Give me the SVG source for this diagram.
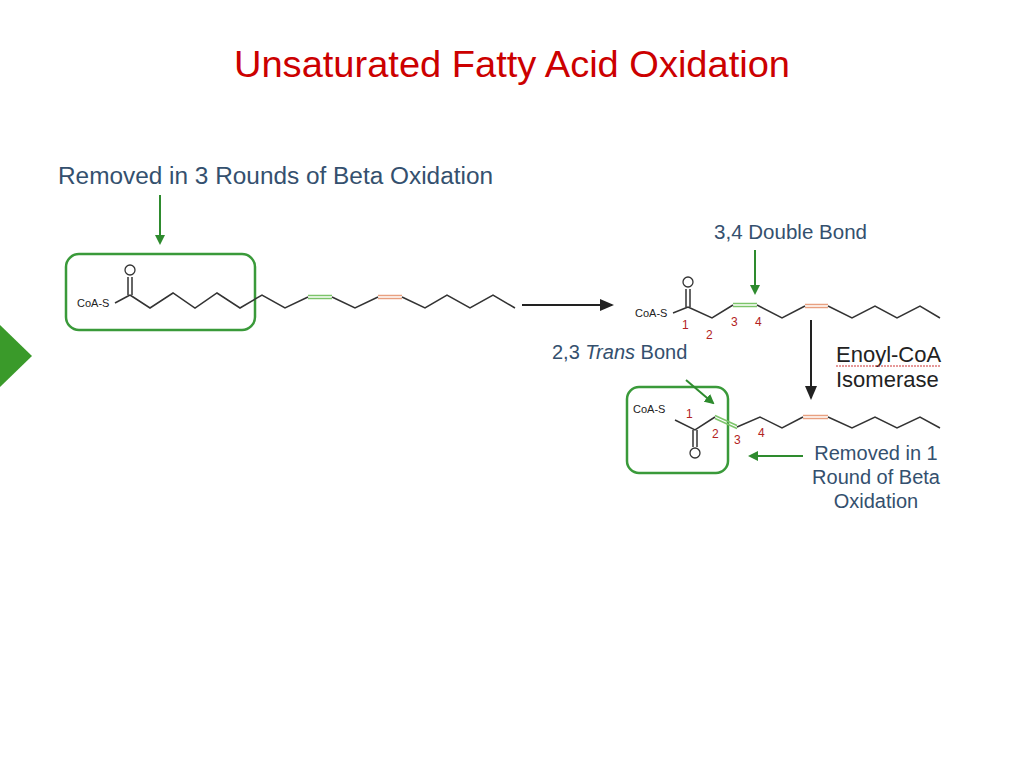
<svg xmlns="http://www.w3.org/2000/svg" width="1024" height="768" viewBox="0 0 1024 768">
<style>
.t{font-family:"Liberation Sans",Arial,sans-serif;fill:#34506e}
.s{font-family:"Liberation Sans",Arial,sans-serif;font-size:11px;fill:#222}
.n{font-family:"Liberation Sans",Arial,sans-serif;font-size:12px;fill:#b22222}
.ch{fill:none;stroke:#333;stroke-width:1.5}
.g{stroke:#7cc46a;stroke-width:1.5}
.o{stroke:#e8a080;stroke-width:1.5}
.box{fill:none;stroke:#3a9a3a;stroke-width:2.5}
.ga{stroke:#2e8b2e;stroke-width:2;fill:none;marker-end:url(#gh)}
.ba{stroke:#222;stroke-width:2;fill:none;marker-end:url(#bh)}
</style>
<defs>
<marker id="gh" markerWidth="10" markerHeight="10" refX="8" refY="5" orient="auto" markerUnits="userSpaceOnUse"><path d="M0,0 L10,5 L0,10 z" fill="#2e8b2e"/></marker>
<marker id="bh" markerWidth="14" markerHeight="14" refX="12" refY="7" orient="auto" markerUnits="userSpaceOnUse"><path d="M0,1 L14,7 L0,13 z" fill="#222"/></marker>
</defs>
<rect width="1024" height="768" fill="#fff"/>
<polygon points="0,325 32,356 0,387" fill="#3a9a2a"/>
<text x="512" y="77" text-anchor="middle" font-family="Liberation Sans,Arial,sans-serif" font-size="36" textLength="556" lengthAdjust="spacingAndGlyphs" fill="#cc0000">Unsaturated Fatty Acid Oxidation</text>
<g id="mol1">
<rect class="box" x="66" y="254" width="189" height="76" rx="13"/>
<text class="s" x="77" y="307">CoA-S</text>
<line x1="115" y1="303" x2="130" y2="295" class="ch"/>
<line x1="128" y1="295" x2="128" y2="277" class="ch"/><line x1="132" y1="295" x2="132" y2="277" class="ch"/>
<circle cx="130" cy="270" r="5" fill="none" stroke="#333" stroke-width="1.3"/>
<polyline class="ch" points="130,295 150,308 173,293 195,308 217,293 240,308 262,295 285,308 308,297"/>
<polyline class="ch" points="332,297 355,308 378,297"/>
<polyline class="ch" points="402,297 425,308 447,295 470,308 493,295 515,308"/>
<line class="g" x1="308" y1="295.5" x2="332" y2="295.5"/><line class="g" x1="308" y1="298.5" x2="332" y2="298.5"/>
<line class="o" x1="378" y1="295.5" x2="402" y2="295.5"/><line class="o" x1="378" y1="298.5" x2="402" y2="298.5"/>
</g>
<g id="mol2">
<text class="s" x="635" y="317">CoA-S</text>
<line x1="673" y1="313" x2="688" y2="307" class="ch"/>
<line x1="686" y1="307" x2="686" y2="289" class="ch"/><line x1="690" y1="307" x2="690" y2="289" class="ch"/>
<circle cx="688" cy="282" r="5" fill="none" stroke="#333" stroke-width="1.3"/>
<polyline class="ch" points="688,307 712,318 733,305"/>
<polyline class="ch" points="757,305 782,318 805,306"/>
<polyline class="ch" points="828,306 852,318 875,306 897,318 920,306 940,318"/>
<line class="g" x1="733" y1="303.5" x2="757" y2="303.5"/><line class="g" x1="733" y1="306.5" x2="757" y2="306.5"/>
<line class="o" x1="805" y1="304.5" x2="828" y2="304.5"/><line class="o" x1="805" y1="307.5" x2="828" y2="307.5"/>
<text class="n" x="682" y="329">1</text><text class="n" x="706" y="339">2</text><text class="n" x="731" y="326">3</text><text class="n" x="755" y="326">4</text>
</g>
<g id="mol3">
<rect class="box" x="627" y="387" width="101" height="86" rx="12"/>
<text class="s" x="633" y="413">CoA-S</text>
<polyline class="ch" points="675,420 695,430 715,417"/>
<line x1="693" y1="430" x2="693" y2="447" class="ch"/><line x1="697" y1="430" x2="697" y2="447" class="ch"/>
<circle cx="695" cy="453" r="5" fill="none" stroke="#333" stroke-width="1.3"/>
<line class="g" x1="715" y1="415.5" x2="737" y2="425.5"/><line class="g" x1="715" y1="418.5" x2="737" y2="428.5"/>
<polyline class="ch" points="737,427 760,417 782,428 803,417"/>
<polyline class="ch" points="828,417 852,428 875,417 897,428 920,417 940,428"/>
<line class="o" x1="803" y1="415.5" x2="828" y2="415.5"/><line class="o" x1="803" y1="418.5" x2="828" y2="418.5"/>
<text class="n" x="686" y="418">1</text><text class="n" x="712" y="438">2</text><text class="n" x="734" y="444">3</text><text class="n" x="758" y="437">4</text>
</g>
<g id="labels">
<text class="t" x="58" y="184" font-size="23" textLength="435" lengthAdjust="spacingAndGlyphs">Removed in 3 Rounds of Beta Oxidation</text>
<text class="t" x="714" y="239" font-size="20" textLength="153" lengthAdjust="spacingAndGlyphs">3,4 Double Bond</text>
<text class="t" x="552" y="359" font-size="20">2,3 <tspan font-style="italic">Trans</tspan> Bond</text>
<text x="836" y="362" font-family="Liberation Sans,Arial,sans-serif" font-size="22" fill="#222">Enoyl-CoA</text>
<line x1="836" y1="366" x2="940" y2="366" stroke="#c33" stroke-width="1" stroke-dasharray="2,1"/>
<text x="836" y="387" font-family="Liberation Sans,Arial,sans-serif" font-size="22" fill="#222">Isomerase</text>
<text class="t" x="876" y="460" font-size="20" text-anchor="middle">Removed in 1</text>
<text class="t" x="876" y="484" font-size="20" text-anchor="middle">Round of Beta</text>
<text class="t" x="876" y="508" font-size="20" text-anchor="middle">Oxidation</text>
</g>
<g id="connectors">
<line class="ga" x1="160" y1="195" x2="160" y2="243"/>
<line class="ba" x1="522" y1="305" x2="612" y2="305"/>
<line class="ga" x1="755" y1="250" x2="755" y2="293"/>
<line class="ba" x1="811" y1="320" x2="811" y2="398"/>
<line class="ga" x1="686" y1="380" x2="713" y2="403"/>
<line class="ga" x1="803" y1="456" x2="750" y2="456"/>
</g>
</svg>
